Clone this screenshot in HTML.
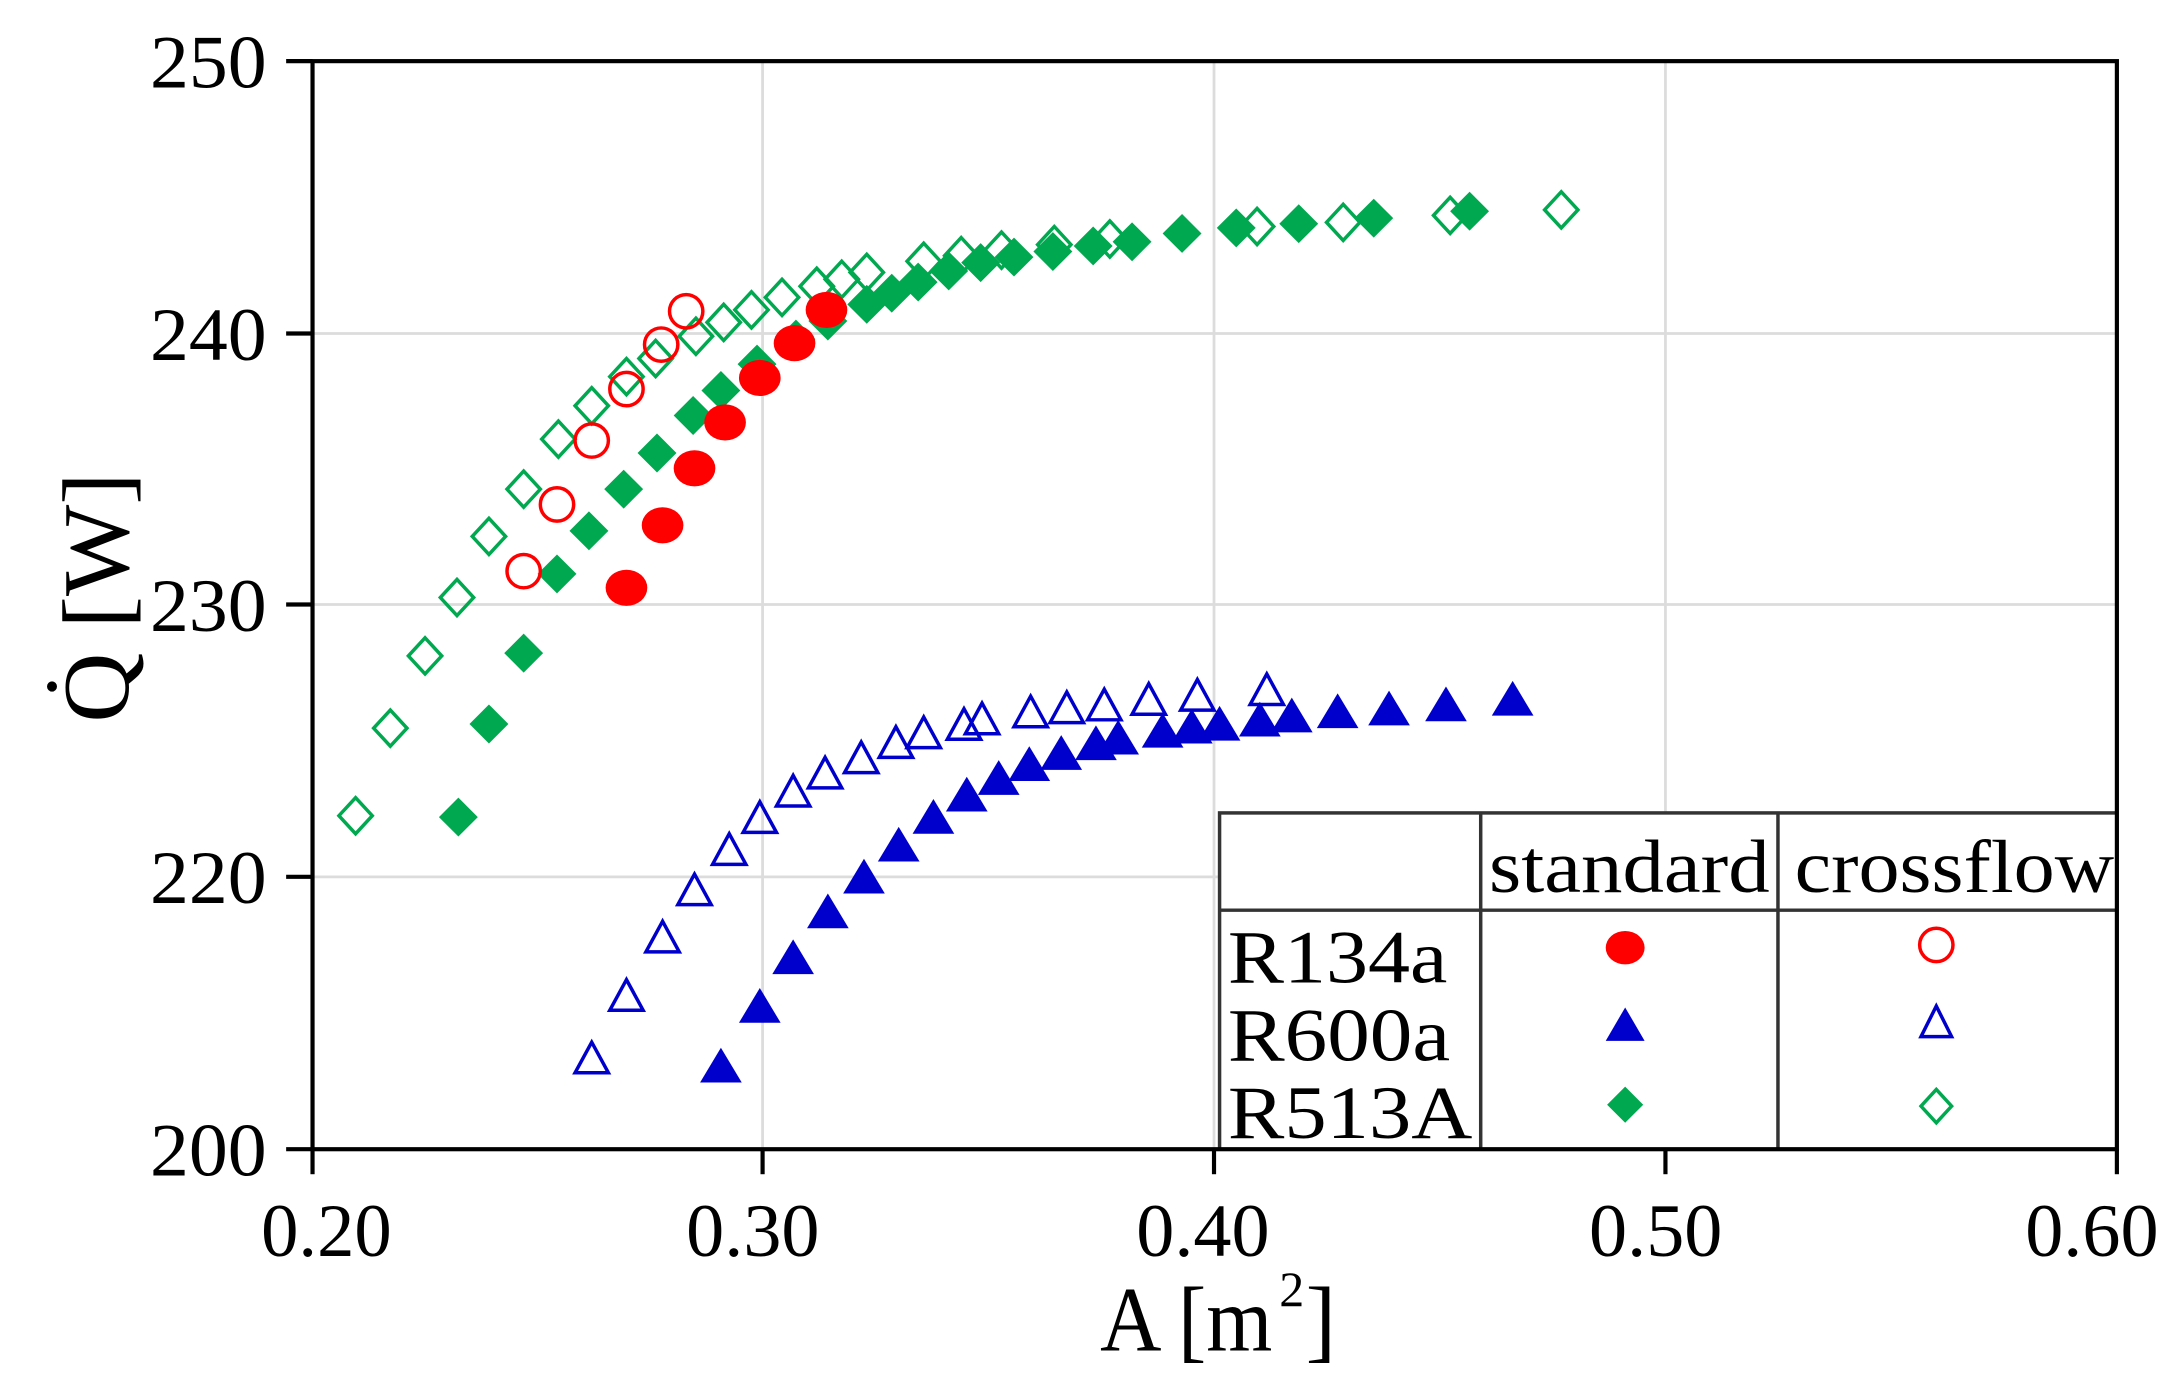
<!DOCTYPE html>
<html><head><meta charset="utf-8"><style>
html,body{margin:0;padding:0;background:#fff;}
svg{display:block;}
text{font-family:"Liberation Serif",serif;fill:#000;}
</style></head><body>
<svg width="2178" height="1391" viewBox="0 0 1568 1001" preserveAspectRatio="none" xmlns="http://www.w3.org/2000/svg">
<rect width="1568" height="1001" fill="#fff"/>
<g stroke="#dcdcdc" stroke-width="2">
<line x1="549" y1="44" x2="549" y2="827"/>
<line x1="874" y1="44" x2="874" y2="827"/>
<line x1="1199" y1="44" x2="1199" y2="827"/>
<line x1="225" y1="240" x2="1524" y2="240"/>
<line x1="225" y1="435" x2="1524" y2="435"/>
<line x1="225" y1="631" x2="1524" y2="631"/>
</g>
<g id="pts">
<g fill="none" stroke="#00a84f" stroke-width="2.5">
<path d="M256 574l12 13-12 13-12-13z"/><path d="M281 511l12 13-12 13-12-13z"/><path d="M306 459l12 13-12 13-12-13z"/><path d="M329 417l12 13-12 13-12-13z"/><path d="M352 373l12 13-12 13-12-13z"/><path d="M377 339l12 13-12 13-12-13z"/><path d="M402 303l12 13-12 13-12-13z"/><path d="M426 279l12 13-12 13-12-13z"/><path d="M451 258l12 13-12 13-12-13z"/><path d="M472 245l12 13-12 13-12-13z"/><path d="M501 229l12 13-12 13-12-13z"/><path d="M521 219l12 13-12 13-12-13z"/><path d="M541 210l12 13-12 13-12-13z"/><path d="M563 201l12 13-12 13-12-13z"/><path d="M588 193l12 13-12 13-12-13z"/><path d="M606 188l12 13-12 13-12-13z"/><path d="M624 183l12 13-12 13-12-13z"/><path d="M665 175l12 13-12 13-12-13z"/><path d="M692 171l12 13-12 13-12-13z"/><path d="M721 167l12 13-12 13-12-13z"/><path d="M759 163l12 13-12 13-12-13z"/><path d="M799 159l12 13-12 13-12-13z"/><path d="M905 150l12 13-12 13-12-13z"/><path d="M967 147l12 13-12 13-12-13z"/><path d="M1044 142l12 13-12 13-12-13z"/><path d="M1124 138l12 13-12 13-12-13z"/>
</g>
<g fill="#00a84f">
<path d="M330 574l14 14-14 14-14-14z"/><path d="M352 507l14 14-14 14-14-14z"/><path d="M377 456l14 14-14 14-14-14z"/><path d="M401 399l14 14-14 14-14-14z"/><path d="M424 368l14 14-14 14-14-14z"/><path d="M449 338l14 14-14 14-14-14z"/><path d="M473 312l14 14-14 14-14-14z"/><path d="M499 285l14 14-14 14-14-14z"/><path d="M519 267l14 14-14 14-14-14z"/><path d="M545 248l14 14-14 14-14-14z"/><path d="M573 230l14 14-14 14-14-14z"/><path d="M596 217l14 14-14 14-14-14z"/><path d="M624 205l14 14-14 14-14-14z"/><path d="M642 197l14 14-14 14-14-14z"/><path d="M661 189l14 14-14 14-14-14z"/><path d="M683 181l14 14-14 14-14-14z"/><path d="M706 175l14 14-14 14-14-14z"/><path d="M730 171l14 14-14 14-14-14z"/><path d="M758 167l14 14-14 14-14-14z"/><path d="M787 163l14 14-14 14-14-14z"/><path d="M815 160l14 14-14 14-14-14z"/><path d="M851 154l14 14-14 14-14-14z"/><path d="M890 150l14 14-14 14-14-14z"/><path d="M935 147l14 14-14 14-14-14z"/><path d="M989 143l14 14-14 14-14-14z"/><path d="M1058 138l14 14-14 14-14-14z"/>
</g>
<g fill="none" stroke="#f00" stroke-width="2.5">
<circle cx="377" cy="411" r="12"/><circle cx="401" cy="363" r="12"/><circle cx="426" cy="317" r="12"/><circle cx="451" cy="280" r="12"/><circle cx="476" cy="248" r="12"/><circle cx="494" cy="224" r="12"/>
</g>
<g fill="#f00">
<ellipse cx="451" cy="423" rx="15" ry="13"/><ellipse cx="477" cy="378" rx="15" ry="13"/><ellipse cx="500" cy="337" rx="15" ry="13"/><ellipse cx="522" cy="304" rx="15" ry="13"/><ellipse cx="547" cy="272" rx="15" ry="13"/><ellipse cx="572" cy="247" rx="15" ry="13"/><ellipse cx="595" cy="223" rx="15" ry="13"/>
</g>
<g fill="none" stroke="#0000cc" stroke-width="2.5">
<path d="M426 750l-12 22h24z"/><path d="M451 705l-12 22h24z"/><path d="M477 663l-12 22h24z"/><path d="M500 629l-12 22h24z"/><path d="M525 600l-12 22h24z"/><path d="M547 577l-12 22h24z"/><path d="M571 558l-12 22h24z"/><path d="M594 545l-12 22h24z"/><path d="M620 534l-12 22h24z"/><path d="M645 523l-12 22h24z"/><path d="M665 516l-12 22h24z"/><path d="M694 510l-12 22h24z"/><path d="M707 506l-12 22h24z"/><path d="M742 501l-12 22h24z"/><path d="M768 498l-12 22h24z"/><path d="M795 496l-12 22h24z"/><path d="M827 492l-12 22h24z"/><path d="M862 489l-12 22h24z"/><path d="M912 485l-12 22h24z"/>
</g>
<g fill="#0000cc">
<path d="M519 754l-15 25h30z"/><path d="M547 711l-15 25h30z"/><path d="M571 676l-15 25h30z"/><path d="M596 643l-15 25h30z"/><path d="M622 618l-15 25h30z"/><path d="M647 595l-15 25h30z"/><path d="M672 575l-15 25h30z"/><path d="M696 559l-15 25h30z"/><path d="M719 547l-15 25h30z"/><path d="M741 537l-15 25h30z"/><path d="M764 529l-15 25h30z"/><path d="M789 522l-15 25h30z"/><path d="M805 518l-15 25h30z"/><path d="M837 513l-15 25h30z"/><path d="M858 510l-15 25h30z"/><path d="M878 508l-15 25h30z"/><path d="M907 505l-15 25h30z"/><path d="M930 502l-15 25h30z"/><path d="M963 499l-15 25h30z"/><path d="M1000 497l-15 25h30z"/><path d="M1041 494l-15 25h30z"/><path d="M1089 490l-15 25h30z"/>
</g>
</g>
<rect x="878" y="585" width="646" height="242" fill="#fff" stroke="#333" stroke-width="2.5"/>
<g stroke="#333" stroke-width="2.5">
<line x1="878" y1="655" x2="1524" y2="655"/>
<line x1="1066" y1="585" x2="1066" y2="827"/>
<line x1="1280" y1="585" x2="1280" y2="827"/>
</g>
<g font-size="54">
<text x="1072" y="642" textLength="202" lengthAdjust="spacingAndGlyphs">standard</text>
<text x="1292" y="642" textLength="230" lengthAdjust="spacingAndGlyphs">crossflow</text>
<text x="884" y="707" textLength="158" lengthAdjust="spacingAndGlyphs">R134a</text>
<text x="884" y="763" textLength="160" lengthAdjust="spacingAndGlyphs">R600a</text>
<text x="884" y="819" textLength="176" lengthAdjust="spacingAndGlyphs">R513A</text>
</g>
<ellipse cx="1170" cy="682" rx="14" ry="12" fill="#f00"/>
<circle cx="1394" cy="680" r="12" fill="none" stroke="#f00" stroke-width="2.5"/>
<path d="M1170 725l-14 24h28z" fill="#0000cc"/>
<path d="M1394 724l-11 22h22z" fill="none" stroke="#0000cc" stroke-width="2.5"/>
<path d="M1170 782l13 13-13 13-13-13z" fill="#00a84f"/>
<path d="M1394 784l11 12-11 12-11-12z" fill="none" stroke="#00a84f" stroke-width="2.5"/>
<rect x="225" y="44" width="1299" height="783" fill="none" stroke="#000" stroke-width="3"/>
<g stroke="#000" stroke-width="3">
<line x1="206" y1="44" x2="225" y2="44"/><line x1="206" y1="240" x2="225" y2="240"/><line x1="206" y1="435" x2="225" y2="435"/><line x1="206" y1="631" x2="225" y2="631"/><line x1="206" y1="827" x2="225" y2="827"/>
<line x1="225" y1="827" x2="225" y2="845"/><line x1="549" y1="827" x2="549" y2="845"/><line x1="874" y1="827" x2="874" y2="845"/><line x1="1199" y1="827" x2="1199" y2="845"/><line x1="1524" y1="827" x2="1524" y2="845"/>
</g>
<g font-size="54">
<text x="108" y="63" textLength="84" lengthAdjust="spacingAndGlyphs">250</text>
<text x="108" y="259" textLength="84" lengthAdjust="spacingAndGlyphs">240</text>
<text x="108" y="454" textLength="84" lengthAdjust="spacingAndGlyphs">230</text>
<text x="108" y="650" textLength="84" lengthAdjust="spacingAndGlyphs">220</text>
<text x="108" y="846" textLength="84" lengthAdjust="spacingAndGlyphs">200</text>
<text x="188" y="904" textLength="94" lengthAdjust="spacingAndGlyphs">0.20</text>
<text x="494" y="904" textLength="96" lengthAdjust="spacingAndGlyphs">0.30</text>
<text x="818" y="904" textLength="96" lengthAdjust="spacingAndGlyphs">0.40</text>
<text x="1144" y="904" textLength="96" lengthAdjust="spacingAndGlyphs">0.50</text>
<text x="1458" y="904" textLength="96" lengthAdjust="spacingAndGlyphs">0.60</text>
</g>
<text x="792" y="972" font-size="66" textLength="124" lengthAdjust="spacingAndGlyphs">A [m</text>
<text x="921" y="940" font-size="36">2</text>
<text x="940" y="972" font-size="66">]</text>
<text transform="translate(92,520) rotate(-90)" font-size="68" textLength="180" lengthAdjust="spacingAndGlyphs">Q̇ [W]</text>
</svg>
</body></html>
